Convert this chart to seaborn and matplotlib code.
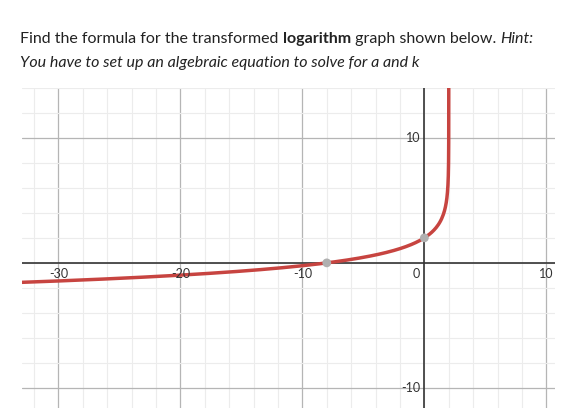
import numpy as np
import matplotlib.pyplot as plt
import seaborn as sns

sns.set_style('white')
plt.rcParams['font.family'] = ['Lato', 'DejaVu Sans']

# y = -a*log10(h - x) + k, through (-8, 0) and (0, 2)
h = 2.0
a = 2.0 / (1 - np.log10(2))
k = a
points_x = [-8, 0]
points_y = [0, 2]

x = np.concatenate([np.linspace(-34, 1.5, 400), h - np.logspace(-0.3, -8, 300)])
y = -a * np.log10(h - x) + k

fig = plt.figure(figsize=(5.75, 4.08), dpi=100)
renderer = fig.canvas.get_renderer()
parts = [('Find the formula for the transformed ', {}),
         ('logarithm', {'fontweight': 'bold'}),
         (' graph shown below. ', {}),
         ('Hint:', {'style': 'italic'})]
xpos = 0.035
for txt, kw in parts:
    t = fig.text(xpos, 0.895, txt, fontsize=11.5, color='#222222', **kw)
    bb = t.get_window_extent(renderer)
    xpos += bb.width / fig.bbox.width
fig.text(0.035, 0.835, 'You have to set up an algebraic equation to solve for a and k',
         fontsize=11.5, style='italic', color='#222222')

ax = fig.add_axes([0.038, 0.0, 0.927, 0.785])
ax.set_xlim(-33, 10.7)
ax.set_ylim(-11.6, 14)
ax.set_xticks(np.arange(-32, 11, 2), minor=True)
ax.set_yticks(np.arange(-10, 15, 2), minor=True)
ax.set_xticks([-30, -20, -10, 10])
ax.set_yticks([-10, 10])
ax.grid(which='minor', color='#ececec', lw=0.8)
ax.grid(which='major', color='#b5b5b5', lw=0.9)
ax.tick_params(which='both', length=0, labelbottom=False, labelleft=False)
for s in ax.spines.values():
    s.set_visible(False)
ax.axhline(0, color='#333333', lw=1.2)
ax.axvline(0, color='#333333', lw=1.2)
for v in [-30, -20, -10, 10]:
    ax.text(v, -0.4, str(v), ha='center', va='top', fontsize=9, color='#333333')
ax.text(-0.4, -0.4, '0', ha='right', va='top', fontsize=9, color='#333333')
for v in [-10, 10]:
    ax.text(-0.3, v, str(v), ha='right', va='center', fontsize=9, color='#333333')

sns.lineplot(x=x, y=y, ax=ax, color='#c74440', lw=2.5, sort=False, estimator=None)
sns.scatterplot(x=points_x, y=points_y, ax=ax, color='#b0b0b0', s=40, edgecolor='none', zorder=5)

fig.savefig('out.png', dpi=100)
